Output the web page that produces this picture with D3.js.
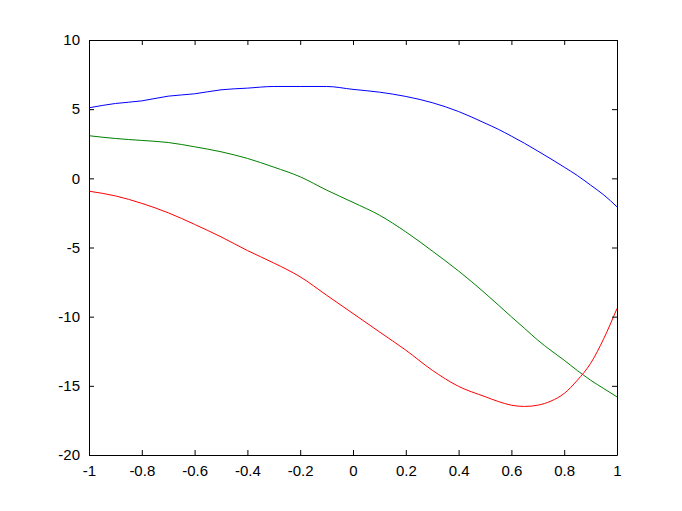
<!DOCTYPE html>
<html>
<head>
<meta charset="utf-8">
<script src="https://cdn.jsdelivr.net/npm/d3@7"></script>
<style>
  html, body { margin: 0; padding: 0; background: #ffffff; }
  svg { display: block; }
  text { font-family: "Liberation Sans", Arial, Helvetica, sans-serif; }
</style>
</head>
<body>
<svg id="chart" width="682" height="511"></svg>
<script>
const xValues = [-1, -0.9, -0.8, -0.7, -0.6, -0.5, -0.4, -0.3, -0.2, -0.1, 0, 0.1, 0.2, 0.3, 0.4, 0.5, 0.55, 0.6, 0.65, 0.7, 0.75, 0.8, 0.85, 0.9, 0.95, 1];
const blueValues = [5.1, 5.41, 5.6, 5.94, 6.11, 6.4, 6.52, 6.64, 6.64, 6.64, 6.43, 6.23, 5.92, 5.47, 4.83, 3.99, 3.55, 3.05, 2.53, 1.97, 1.4, 0.81, 0.2, -0.49, -1.2, -2.06];
const greenValues = [3.08, 2.88, 2.74, 2.59, 2.28, 1.92, 1.44, 0.81, 0.11, -0.85, -1.74, -2.66, -3.87, -5.25, -6.7, -8.3, -9.15, -10.01, -10.85, -11.7, -12.45, -13.15, -13.9, -14.59, -15.2, -15.8];
const redValues = [-0.93, -1.27, -1.81, -2.49, -3.33, -4.23, -5.22, -6.12, -7.12, -8.45, -9.77, -11.1, -12.42, -13.87, -15.04, -15.78, -16.13, -16.4, -16.49, -16.4, -16.1, -15.55, -14.59, -13.38, -11.58, -9.41];
const xTicks = [-1, -0.8, -0.6, -0.4, -0.2, 0, 0.2, 0.4, 0.6, 0.8, 1];
const yTicks = [-20, -15, -10, -5, 0, 5, 10];
const seriesList = [
  { name: "blue", values: blueValues, color: "#0000ff" },
  { name: "green", values: greenValues, color: "#008000" },
  { name: "red", values: redValues, color: "#ff0000" }
];

const plotLeft = 89, plotRight = 617, plotTop = 40, plotBottom = 455;
const svg = d3.select("#chart");
const x = d3.scaleLinear().domain([-1, 1]).range([plotLeft, plotRight]);
const y = d3.scaleLinear().domain([-20, 10]).range([plotBottom, plotTop]);

const plot = svg.append("g");
const line = d3.line().x(d => x(d[0])).y(d => y(d[1])).curve(d3.curveMonotoneX);
seriesList.forEach(s => {
  plot.append("path")
    .datum(xValues.map((xv, i) => [xv, s.values[i]]))
    .attr("fill", "none")
    .attr("stroke", s.color)
    .attr("stroke-width", 1)
    .attr("d", line);
});

const fmt = d => String(d);
const tickLen = 5;
const gB = svg.append("g").attr("transform", `translate(0,${plotBottom})`)
  .call(d3.axisBottom(x).tickValues(xTicks).tickFormat(fmt).tickSizeInner(-tickLen).tickSizeOuter(0).tickPadding(10));
const gT = svg.append("g").attr("transform", `translate(0,${plotTop})`)
  .call(d3.axisTop(x).tickValues(xTicks).tickFormat("").tickSizeInner(-tickLen).tickSizeOuter(0));
const gL = svg.append("g").attr("transform", `translate(${plotLeft},0)`)
  .call(d3.axisLeft(y).tickValues(yTicks).tickFormat(fmt).tickSizeInner(-tickLen).tickSizeOuter(0).tickPadding(9));
const gR = svg.append("g").attr("transform", `translate(${plotRight},0)`)
  .call(d3.axisRight(y).tickValues(yTicks).tickFormat("").tickSizeInner(-tickLen).tickSizeOuter(0));

[gB, gT, gL, gR].forEach(g => {
  g.select(".domain").attr("stroke", "#000").attr("stroke-width", 1);
  g.selectAll(".tick line").attr("stroke", "#000");
  g.selectAll("text").attr("fill", "#000").style("font-size", "15px").style("font-family", '"Liberation Sans", Arial, sans-serif');
});
</script>
</body>
</html>
